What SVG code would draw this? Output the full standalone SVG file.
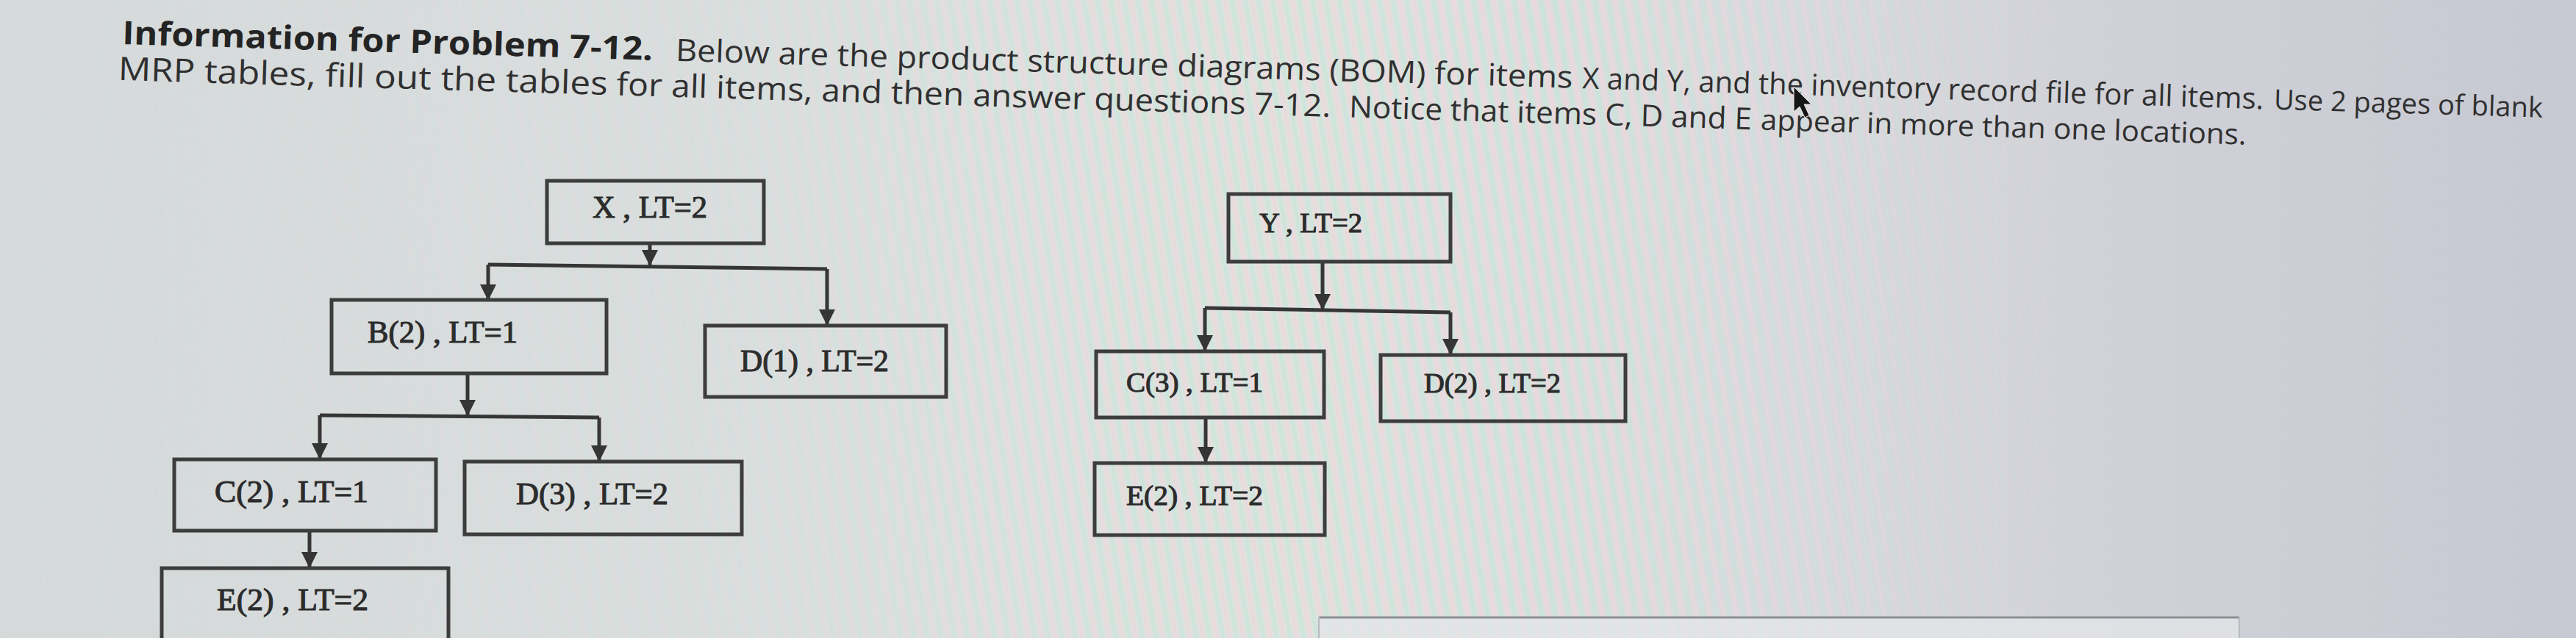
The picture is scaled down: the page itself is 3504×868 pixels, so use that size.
<svg xmlns="http://www.w3.org/2000/svg" width="3504" height="868" viewBox="0 0 3504 868">
  <defs>
    <linearGradient id="bg" x1="0" y1="0" x2="1" y2="0">
      <stop offset="0" stop-color="#d5d9da"/>
      <stop offset="0.3" stop-color="#dadede"/>
      <stop offset="0.5" stop-color="#dfe3df"/>
      <stop offset="0.68" stop-color="#d9dadd"/>
      <stop offset="0.85" stop-color="#cfd0d7"/>
      <stop offset="1" stop-color="#c7c9d2"/>
    </linearGradient>
    <linearGradient id="mg" x1="0" y1="0" x2="1" y2="0">
      <stop offset="0" stop-color="#000"/>
      <stop offset="0.28" stop-color="#333"/>
      <stop offset="0.42" stop-color="#ccc"/>
      <stop offset="0.6" stop-color="#fff"/>
      <stop offset="0.72" stop-color="#666"/>
      <stop offset="0.8" stop-color="#000"/>
      <stop offset="1" stop-color="#000"/>
    </linearGradient>
    <mask id="moireMask">
      <rect x="0" y="0" width="3504" height="868" fill="url(#mg)"/>
    </mask>
    <pattern id="stripes" width="18" height="40" patternUnits="userSpaceOnUse" patternTransform="rotate(-10)">
      <rect x="0" y="0" width="6" height="40" fill="#f0d6dc"/>
      <rect x="9" y="0" width="6" height="40" fill="#c4e6da"/>
    </pattern>
    <marker id="arrow" markerUnits="userSpaceOnUse" markerWidth="26" markerHeight="26" refX="22" refY="11" orient="auto">
      <path d="M0,0 L22,11 L0,22 z" fill="#353535"/>
    </marker>
    <style>
      .title { font-family: "Open Sans", "Liberation Sans", sans-serif; fill: #303030; }
      .bold { font-weight: bold; fill: #242424; }
      .box { fill: none; stroke: #3d3d3d; stroke-width: 5; }
      .lbl { font-family: "Liberation Serif", "DejaVu Serif", serif; font-size: 42px; fill: #2c2c2c; stroke: #2c2c2c; stroke-width: 1.1; }
      .lbl.s { font-size: 38px; }
      .conn { fill: none; stroke: #363636; stroke-width: 5; }
    </style>
  </defs>

  <rect x="0" y="0" width="3504" height="868" fill="url(#bg)"/>
  <rect x="0" y="0" width="3504" height="868" fill="url(#stripes)" mask="url(#moireMask)" opacity="0.65"/>

  <g id="header">
    <g transform="translate(166,60) rotate(1.735)">
      <text class="title bold" x="0" y="0" font-size="44" textLength="722" lengthAdjust="spacingAndGlyphs">Information for Problem 7-12.</text>
      <text class="title" x="753" y="0" font-size="42" textLength="1221" lengthAdjust="spacingAndGlyphs">Below are the product structure diagrams (BOM) for items</text>
      <text class="title" x="1987" y="0" font-size="40" textLength="927" lengthAdjust="spacingAndGlyphs">X and Y, and the inventory record file for all items.</text>
      <text class="title" x="2928" y="0" font-size="38" textLength="366" lengthAdjust="spacingAndGlyphs">Use 2 pages of blank</text>

      <text class="title" x="-4" y="49" font-size="44" textLength="666" lengthAdjust="spacingAndGlyphs">MRP tables, fill out the tables</text>
      <text class="title" x="674" y="49" font-size="43" textLength="473" lengthAdjust="spacingAndGlyphs">for all items, and then</text>
      <text class="title" x="1159" y="49" font-size="42" textLength="487" lengthAdjust="spacingAndGlyphs">answer questions 7-12.</text>
      <text class="title" x="1671" y="49" font-size="41" textLength="548" lengthAdjust="spacingAndGlyphs">Notice that items C, D and E</text>
      <text class="title" x="2231" y="49" font-size="39" textLength="661" lengthAdjust="spacingAndGlyphs">appear in more than one locations.</text>
    </g>
  </g>

  <g id="connectors">
    <path class="conn" d="M884,331 L884,362" marker-end="url(#arrow)"/>
    <path class="conn" d="M664,360 L1125,366"/>
    <path class="conn" d="M664,360 L664,409" marker-end="url(#arrow)"/>
    <path class="conn" d="M1125,366 L1125,443" marker-end="url(#arrow)"/>

    <path class="conn" d="M636,508 L636,566" marker-end="url(#arrow)"/>
    <path class="conn" d="M435,565 L815,568"/>
    <path class="conn" d="M435,565 L435,625" marker-end="url(#arrow)"/>
    <path class="conn" d="M815,568 L815,628" marker-end="url(#arrow)"/>

    <path class="conn" d="M421,722 L421,773" marker-end="url(#arrow)"/>

    <path class="conn" d="M1799,356 L1799,422" marker-end="url(#arrow)"/>
    <path class="conn" d="M1639,419 L1973,425"/>
    <path class="conn" d="M1639,419 L1639,478" marker-end="url(#arrow)"/>
    <path class="conn" d="M1973,425 L1973,483" marker-end="url(#arrow)"/>

    <path class="conn" d="M1640,568 L1640,630" marker-end="url(#arrow)"/>
  </g>

  <g id="node-X">
    <rect class="box" x="744" y="246" width="295" height="85"/>
    <text class="lbl" x="806" y="296" textLength="156" lengthAdjust="spacingAndGlyphs">X , LT=2</text>
  </g>
  <g id="node-B2">
    <rect class="box" x="451" y="408" width="374" height="100"/>
    <text class="lbl" x="500" y="466" textLength="204" lengthAdjust="spacingAndGlyphs">B(2) , LT=1</text>
  </g>
  <g id="node-D1">
    <rect class="box" x="959" y="443" width="328" height="97"/>
    <text class="lbl" x="1007" y="505" textLength="202" lengthAdjust="spacingAndGlyphs">D(1) , LT=2</text>
  </g>
  <g id="node-C2">
    <rect class="box" x="237" y="625" width="356" height="97"/>
    <text class="lbl" x="292" y="683" textLength="209" lengthAdjust="spacingAndGlyphs">C(2) , LT=1</text>
  </g>
  <g id="node-D3">
    <rect class="box" x="632" y="628" width="377" height="99"/>
    <text class="lbl" x="702" y="686" textLength="207" lengthAdjust="spacingAndGlyphs">D(3) , LT=2</text>
  </g>
  <g id="node-E2-left">
    <rect class="box" x="220" y="773" width="390" height="130"/>
    <text class="lbl" x="295" y="830" textLength="206" lengthAdjust="spacingAndGlyphs">E(2) , LT=2</text>
  </g>

  <g id="node-Y">
    <rect class="box" x="1671" y="264" width="302" height="92"/>
    <text class="lbl s" x="1713" y="316" textLength="140" lengthAdjust="spacingAndGlyphs">Y , LT=2</text>
  </g>
  <g id="node-C3">
    <rect class="box" x="1491" y="478" width="310" height="90"/>
    <text class="lbl s" x="1532" y="533" textLength="186" lengthAdjust="spacingAndGlyphs">C(3) , LT=1</text>
  </g>
  <g id="node-D2">
    <rect class="box" x="1878" y="483" width="333" height="90"/>
    <text class="lbl s" x="1937" y="534" textLength="186" lengthAdjust="spacingAndGlyphs">D(2) , LT=2</text>
  </g>
  <g id="node-E2-right">
    <rect class="box" x="1489" y="630" width="313" height="98"/>
    <text class="lbl s" x="1532" y="687" textLength="186" lengthAdjust="spacingAndGlyphs">E(2) , LT=2</text>
  </g>

  <g id="table-edge">
    <rect x="1794" y="840" width="1252" height="40" fill="#e3e5e8" opacity="0.75"/>
    <path d="M1794,840 L3046,840" stroke="#8d9095" stroke-width="3" fill="none"/>
    <path d="M1794,840 L1794,868 M3046,840 L3046,868" stroke="#b7babf" stroke-width="2" fill="none"/>
  </g>

  <g id="cursor">
    <polygon points="2440,118 2440,152 2448,145 2455,160 2461,157 2454,142 2464,142" fill="#161616" stroke="#e8e8e8" stroke-width="1"/>
  </g>
</svg>
